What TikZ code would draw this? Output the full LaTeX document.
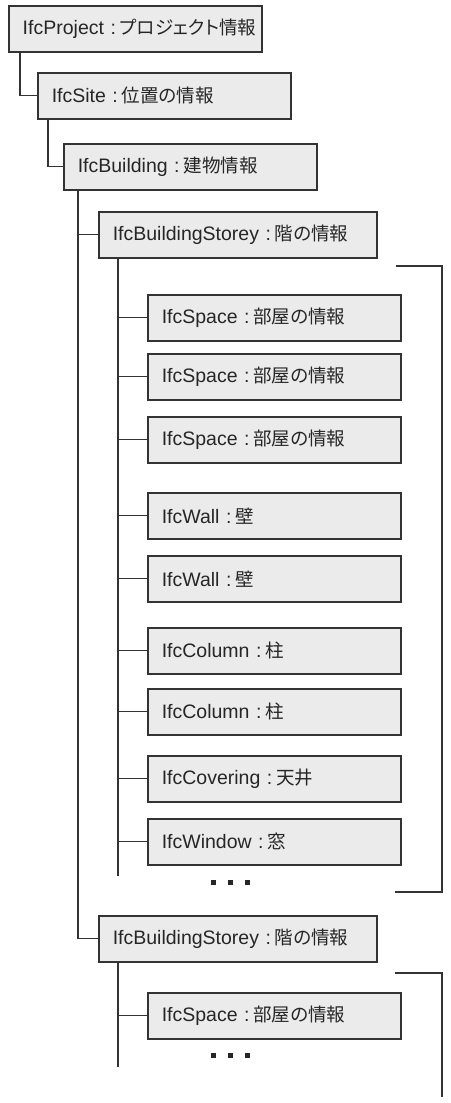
\documentclass[tikz,border=0pt]{standalone}
\usepackage{fontspec}
\setmainfont{Liberation Sans}
\newfontfamily\cjk[Scale=0.95,RawFeature=+palt]{Noto Sans CJK JP}
\usetikzlibrary{calc}
\newcommand{\ifclabel}[2]{\mbox{#1 :\hspace{0.2em}{\cjk #2}}}

\begin{document}
\begin{tikzpicture}[x=1pt, y=-1pt,
    ifcbox/.style={draw=black!80, line width=1.5pt, fill=black!8, anchor=north west,
        minimum height=46pt, inner xsep=14pt, inner ysep=0pt, align=left,
        text width=225pt, text=black!85, font=\fontsize{19.5}{22}\selectfont},
    storeybox/.style={ifcbox, text width=250pt},
    tree/.style={draw=black!80, line width=1.3pt},
    dot/.style={fill=black!85}]

    % Fix the page size
    \useasboundingbox (0,0) rectangle (450,1103);

    % Upper levels
    \node[ifcbox] (proj) at (8,5) {\ifclabel{IfcProject}{プロジェクト情報}};
    \node[ifcbox] (site) at (37,72) {\ifclabel{IfcSite}{位置の情報}};
    \node[ifcbox] (bldg) at (63,143) {\ifclabel{IfcBuilding}{建物情報}};

    % Storeys
    \node[storeybox] (storeyA) at (98,211) {\ifclabel{IfcBuildingStorey}{階の情報}};
    \node[storeybox] (storeyB) at (98,915) {\ifclabel{IfcBuildingStorey}{階の情報}};

    % Elements of the first storey
    \node[ifcbox] (spaceA) at (147,294) {\ifclabel{IfcSpace}{部屋の情報}};
    \node[ifcbox] (spaceB) at (147,353) {\ifclabel{IfcSpace}{部屋の情報}};
    \node[ifcbox] (spaceC) at (147,416) {\ifclabel{IfcSpace}{部屋の情報}};
    \node[ifcbox] (wallA) at (147,492) {\ifclabel{IfcWall}{壁}};
    \node[ifcbox] (wallB) at (147,555) {\ifclabel{IfcWall}{壁}};
    \node[ifcbox] (colA) at (147,627) {\ifclabel{IfcColumn}{柱}};
    \node[ifcbox] (colB) at (147,688) {\ifclabel{IfcColumn}{柱}};
    \node[ifcbox] (cover) at (147,755) {\ifclabel{IfcCovering}{天井}};
    \node[ifcbox] (window) at (147,818) {\ifclabel{IfcWindow}{窓}};

    % Elements of the second storey
    \node[ifcbox] (spaceD) at (147,992) {\ifclabel{IfcSpace}{部屋の情報}};

    % Connectors of the upper levels
    \draw[tree] ($(proj.south west)+(12,0)$) |- (site.west);
    \draw[tree] ($(site.south west)+(11,0)$) |- (bldg.west);
    \coordinate (bldgtrunk) at ($(bldg.south west)+(15,0)$);
    \draw[tree] (bldgtrunk) |- (storeyB.west);
    \draw[tree] (storeyA.west) -- (storeyA.west -| bldgtrunk);

    % Trunk of the first storey
    \coordinate (trunkA) at ($(storeyA.south west)+(20,0)$);
    \coordinate (trunkAend) at (118,876);
    \draw[tree] (trunkA) -- (trunkAend);
    \foreach \n in {spaceA,spaceB,spaceC,wallA,wallB,colA,colB,cover,window} {
        \draw[tree] (\n.west) -- (\n.west -| trunkA);
    }

    % Trunk of the second storey
    \coordinate (trunkB) at ($(storeyB.south west)+(20,0)$);
    \coordinate (trunkBend) at (118,1067);
    \draw[tree] (trunkB) -- (trunkBend);
    \draw[tree] (spaceD.west) -- (spaceD.west -| trunkB);

    % More elements
    \foreach \x in {213,230,247} {
        \fill[dot] (\x-2.5,879.5) rectangle ++(5,5);
        \fill[dot] (\x-2.5,1052.5) rectangle ++(5,5);
    }

    % Brackets on the right
    \coordinate (bracketAtop) at (396,266);
    \coordinate (bracketAbot) at (395,892);
    \draw[tree] (bracketAtop) -- ++(46,0) |- (bracketAbot);
    \coordinate (bracketBtop) at (395,973);
    \coordinate (bracketBbot) at (442,1097);
    \draw[tree] (bracketBtop) -| (bracketBbot);
\end{tikzpicture}
\end{document}
